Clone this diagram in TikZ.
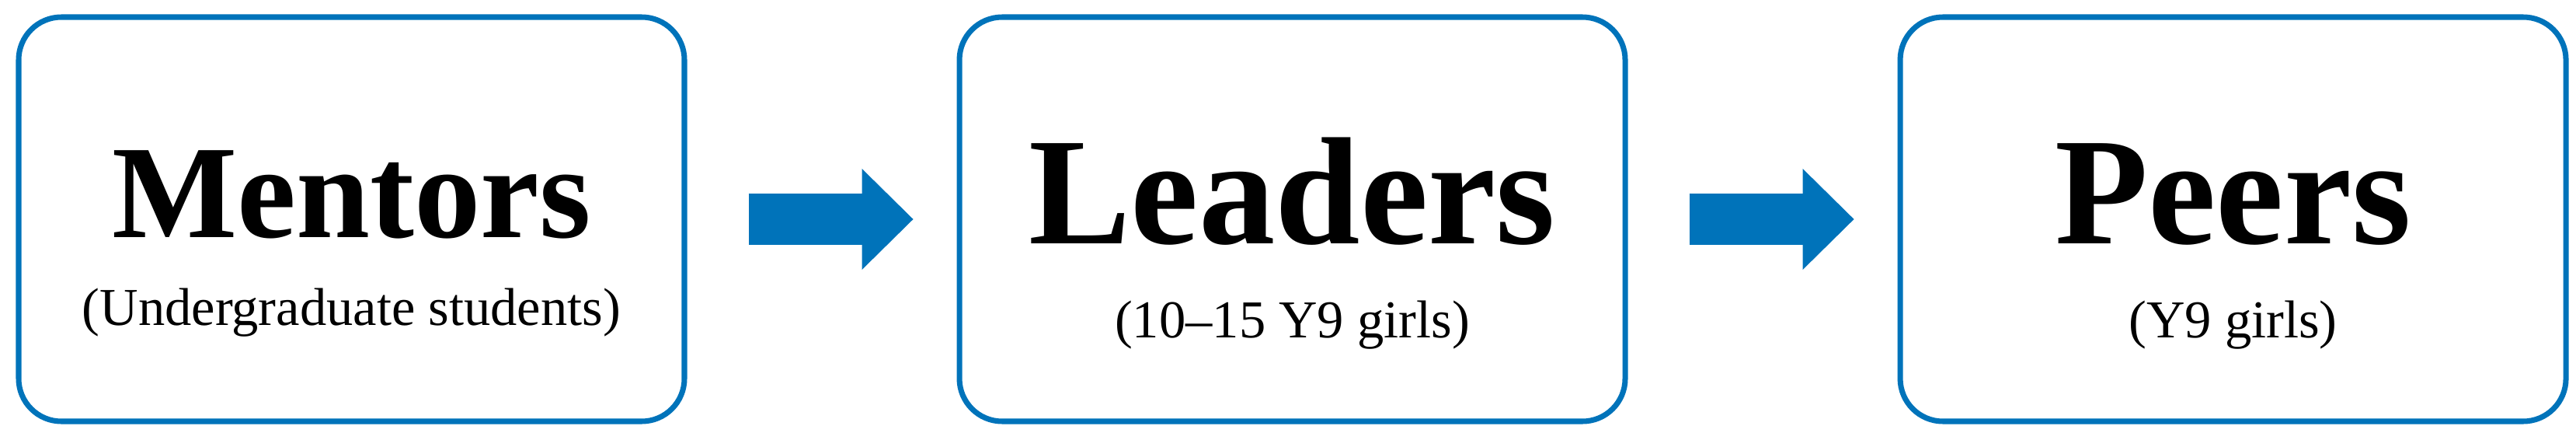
\documentclass[tikz,border=0pt]{standalone}
\usepackage{fontspec}
\setmainfont{Liberation Serif}
\usetikzlibrary{positioning,arrows.meta}
\definecolor{boxblue}{RGB}{0,115,186}
\tikzset{
  stage/.style={draw=boxblue, line width=2pt, rounded corners=.55cm,
    minimum width=8.57cm, minimum height=5.2cm, inner sep=0pt},
  title/.style={anchor=base, font=\bfseries\fontsize{#1}{#1}\selectfont},
  note/.style={anchor=base, font=\fontsize{19.5}{22}\selectfont},
  flow/.style={boxblue, line width=.66cm, shorten <=.79cm, shorten >=.56cm,
    -{Triangle[length=.66cm,width=1.3cm,line width=0pt]}}
}
\begin{document}
\begin{tikzpicture}
	\useasboundingbox (0,0) rectangle (33.16,5.65);
	% the three stages
	\node[stage] (mentors) at (4.525,2.83) {};
	\node[stage, right=3.47cm of mentors] (leaders) {};
	\node[stage, right=3.47cm of leaders] (peers) {};
	% texts
	\node[title=48.6] (mentorsT) at ([yshift=-.23cm]mentors.center) {Mentors};
	\node[note] (mentorsN) at ([yshift=-1.36cm]mentors.center)
		{(Undergraduate students)};
	\node[title=56] (leadersT) at ([yshift=-.31cm]leaders.center) {Leaders};
	\node[note] (leadersN) at ([yshift=-1.52cm]leaders.center)
		{(10--15 Y9 girls)};
	\node[title=56] (peersT) at ([yshift=-.31cm]peers.center) {Peers};
	\node[note] (peersN) at ([yshift=-1.52cm]peers.center)
		{(Y9 girls)};
	% arrows
	\draw[flow] (mentors) -- (leaders);
	\draw[flow] (leaders) -- (peers);
\end{tikzpicture}
\end{document}
